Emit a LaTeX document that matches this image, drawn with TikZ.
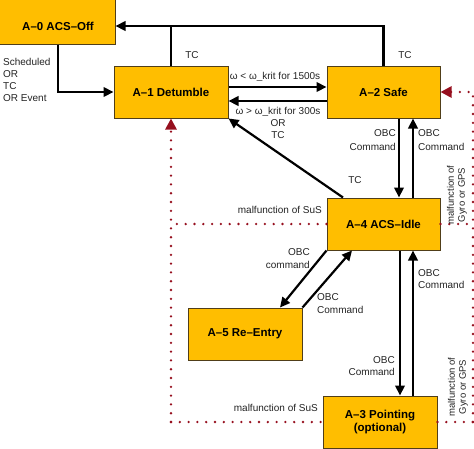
\documentclass[tikz,border=0pt]{standalone}
\usepackage{fontspec}
\setmainfont{Liberation Sans}
\usetikzlibrary{arrows.meta}
\definecolor{boxfill}{RGB}{255,190,0}
\definecolor{boxline}{RGB}{80,62,25}
\definecolor{dotred}{RGB}{150,15,30}
\definecolor{labelgray}{RGB}{35,35,35}
\begin{document}
\begin{tikzpicture}[x=1pt,y=-1pt,
  box/.style={draw=boxline, fill=boxfill, line width=1pt, minimum width=114pt, minimum height=52pt, inner sep=0pt, font=\fontsize{11.5}{13.5}\selectfont\bfseries, align=center},
  boxtext/.style={font=\fontsize{11.5}{13.5}\selectfont\bfseries, inner sep=0pt},
  lbl/.style={font=\fontsize{10}{12.5}\selectfont, text=labelgray, inner sep=0pt},
  conn/.style={line width=2.2pt, draw=black},
  arr/.style={conn, -{Triangle[length=10pt,width=9.5pt]}},
  redline/.style={draw=dotred, line width=2.6pt, line cap=round, dash pattern=on 0pt off 8.8pt},
  redarr/.style={redline, -{Triangle[length=11pt,width=11pt]}}
]
\path[use as bounding box] (0,0) rectangle (474,448);
\clip (0,0) rectangle (474,448);

% boxes
\node[box, minimum width=124pt, minimum height=60pt] (a0) at (53,14) {};
\node[boxtext] (a0t) at (58,26) {A–0 ACS–Off};
\node[box] (a1) at (171,92) {A–1 Detumble};
\node[box, minimum width=113pt] (a2) at (383.5,92) {A–2 Safe};
\node[box, minimum width=113pt] (a4) at (383.5,224) {A–4 ACS–Idle};
\node[box] (a5) at (245,334) {A–5 Re–Entry};
\node[box] (a3) at (380,422) {A–3 Pointing\\(optional)};

% coordinates
\coordinate (j) at (383.5,26);
\coordinate (bl) at (171,422);
\coordinate (br) at (473,422);
\coordinate (tr) at (473,92);

% red dotted connectors
\draw[redarr] (bl) -- (a1.south);
\draw[redline] (bl) -- (a3.west);
\draw[redline] (a3.east) -- (br);
\draw[redarr] (br) -- (tr) -- (a2.east);
\draw[redline] (a4.west) -- (a4.west -| bl);
\draw[redline] (a4.east) -- (a4.east -| br);

% black connectors
\draw[arr] (a2.north) -- (j) -- (a0.east |- j);
\draw[conn] (a1.north) -- (a1.north |- j);
\draw[arr] (a0t |- a0.south) |- (a1.west);
\draw[arr] ([yshift=5pt]a1.east) -- ([yshift=5pt]a2.west);
\draw[arr] ([yshift=-9pt]a2.west) -- ([yshift=-9pt]a1.east);
\draw[arr] ([xshift=15.5pt]a2.south) -- ([xshift=15.5pt]a4.north);
\draw[arr] ([xshift=29.5pt]a4.north) -- ([xshift=29.5pt]a2.south);
\draw[arr] ([xshift=16.5pt]a4.south) -- ([xshift=20pt]a3.north);
\draw[arr] ([xshift=33pt]a3.north) -- ([xshift=29.5pt]a4.south);
\draw[arr] ([xshift=-40.5pt]a4.north) -- (a1.south east);
\draw[arr] (a4.south west) -- ([xshift=35pt]a5.north);
\draw[arr] (a5.north east) -- ([xshift=-31.5pt]a4.south);

% labels
\node[lbl, anchor=west, align=left, font=\fontsize{10}{12}\selectfont] (l0) at (3,80) {Scheduled\\OR\\TC\\OR Event};
\node[lbl] (ltc1) at (192,55) {TC};
\node[lbl] (ltc2) at (405,55) {TC};
\node[lbl] (lw1) at (275,77) {ω < ω\_krit for 1500s};
\node[lbl, align=center, font=\fontsize{10}{12}\selectfont] (lw2) at (278,123) {ω > ω\_krit for 300s\\OR\\TC};
\node[lbl, align=right, anchor=east, font=\fontsize{10}{13.5}\selectfont] (lo1) at (396,140) {OBC\\Command};
\node[lbl, align=left, anchor=west, font=\fontsize{10}{13.5}\selectfont] (lo2) at (418,140) {OBC\\Command};
\node[lbl] (ltc3) at (355,180) {TC};
\node[lbl, anchor=east] (lm1) at (322,210) {malfunction of SuS};
\node[lbl, align=right, anchor=east] (lo3) at (310,258.5) {OBC\\command};
\node[lbl, align=left, anchor=west] (lo4) at (317,303.5) {OBC\\Command};
\node[lbl, align=left, anchor=west, font=\fontsize{10}{12}\selectfont] (lo5) at (418,279) {OBC\\Command};
\node[lbl, align=right, anchor=east, font=\fontsize{10}{12}\selectfont] (lo6) at (395,366) {OBC\\Command};
\node[lbl, anchor=east] (lm2) at (318,408) {malfunction of SuS};
\node[lbl, rotate=90, align=center, font=\fontsize{9.5}{11}\selectfont] (lg1) at (457,195) {malfunction of\\Gyro or GPS};
\node[lbl, rotate=90, align=center, font=\fontsize{9.5}{11}\selectfont] (lg2) at (458,387) {malfunction of\\Gyro or GPS};
\end{tikzpicture}
\end{document}
